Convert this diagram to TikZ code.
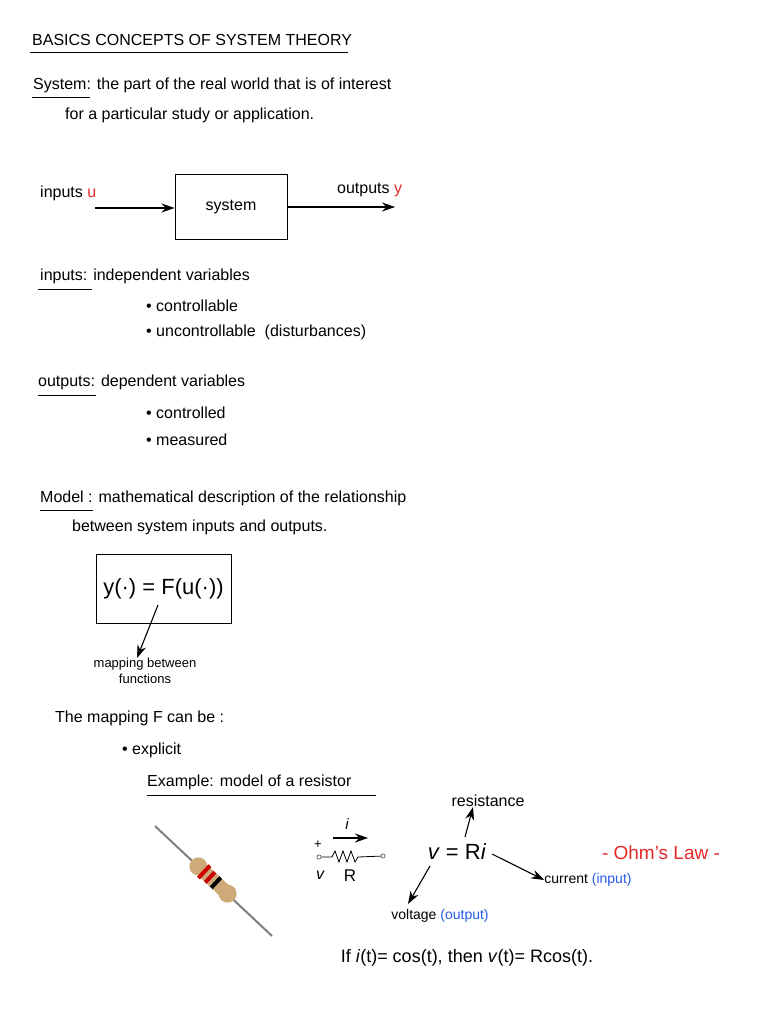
\documentclass[tikz,border=0pt]{standalone}
\usepackage{fontspec}
\setmainfont{Liberation Sans}
\usetikzlibrary{arrows.meta}
\definecolor{hred}{RGB}{230,40,40}
\definecolor{hblue}{RGB}{40,90,230}
\definecolor{tan}{RGB}{205,170,120}
\begin{document}
\begin{tikzpicture}[x=1pt,y=-1pt,
  txt/.style={anchor=west,inner sep=0pt,font=\fontsize{16}{19}\selectfont},
  sm/.style={anchor=center,inner sep=0pt,font=\fontsize{13}{16}\selectfont},
  arr/.style={-{Stealth[length=13pt,width=9pt]},line width=1.1pt},
  ul/.style={line width=0.8pt}]
\useasboundingbox[fill=white] (0,0) rectangle (768,1024);
\node[txt] (title) at (32,40) {BASICS CONCEPTS OF SYSTEM THEORY};
\draw[ul] (30,52) -- (348,52);
\node[txt] (sys) at (33,85) {System: the part of the real world that is of interest};
\draw[ul] (32,97) -- (90,97);
\node[txt] (sys2) at (65,115) {for a particular study or application.};
\node[draw,line width=1pt,minimum width=112pt,minimum height=64pt,font=\fontsize{16}{19}\selectfont] (box) at (231,207) {system};
\node[txt] (in) at (40,193) {inputs \textcolor{hred}{u}};
\coordinate (ins) at (95,208);
\draw[arr] (ins) -- (box.west |- ins);
\node[txt] (out) at (337,190) {outputs \textcolor{hred}{y}};
\coordinate (oute) at (395,207);
\draw[arr] (box.east |- oute) -- (oute);
\node[txt] (inp) at (40,276) {inputs: independent variables};
\draw[ul] (38,289) -- (92,289);
\node[txt] (b1) at (146,306) {\textbullet\ controllable};
\node[txt] (b2) at (146,332) {\textbullet\ uncontrollable\ \ (disturbances)};
\node[txt] (outp) at (38,382) {outputs: dependent variables};
\draw[ul] (38,395) -- (96,395);
\node[txt] (b3) at (146,413) {\textbullet\ controlled};
\node[txt] (b4) at (146,440) {\textbullet\ measured};
\node[txt] (mod) at (40,498) {Model : mathematical description of the relationship};
\draw[ul] (40,510) -- (93,510);
\node[txt] (mod2) at (72,527) {between system inputs and outputs.};
\node[draw,line width=1pt,minimum width=135pt,minimum height=69pt,font=\fontsize{22}{26}\selectfont] (fbox) at (163.5,588.5) {y(·) = F(u(·))};
\node[sm,align=center] (map) at (145,671) {mapping between\\functions};
\coordinate (ms) at (158,605);
\draw[arr] (ms) -- (map.north -| 137,0);
\node[txt] (can) at (55,718) {The mapping F can be :};
\node[txt] (expl) at (122,750) {\textbullet\ explicit};
\node[txt] (ex) at (147,782) {Example: model of a resistor};
\draw[ul] (147,795) -- (376,795);
\draw[line width=2pt,gray] (155,826) -- (272,936);
\begin{scope}[shift={(213,880)},rotate=-43]
\fill[tan] (-20,-7) rectangle (20,7);
\fill[tan] (-20,0) circle (9);
\fill[tan] (20,0) circle (9);
\fill[red!80!black] (-14,-8.5) rectangle (-10,8.5);
\fill[red!80!black] (-6,-7) rectangle (-2,7);
\fill[black] (2,-7) rectangle (6,7);
\end{scope}
\node[sm,font=\itshape\fontsize{15}{18}\selectfont] (ci) at (347,824) {i};
\coordinate (ia) at (333,838); \coordinate (ib) at (368,838);
\draw[arr] (ia) -- (ib);
\node[sm] (plus) at (318,845) {+};
\node[draw,circle,inner sep=1.5pt] (t1) at (319,857) {};
\node[draw,circle,inner sep=1.5pt] (t2) at (383,856) {};
\draw[line width=0.8pt] (t1) -- (332,857) -- (335,851) -- (339,862) -- (343,851) -- (347,862) -- (351,851) -- (355,862) -- (358,857) -- (t2);
\node[sm,font=\itshape\fontsize{16}{18}\selectfont] (cv) at (320,875) {v};
\node[sm,font=\fontsize{17}{20}\selectfont] (cR) at (350,876) {R};
\node[sm,font=\fontsize{22}{26}\selectfont] (law) at (457,852) {\textit{v} = R\textit{i}};
\node[sm,font=\fontsize{16}{19}\selectfont] (res) at (488,801) {resistance};
\draw[arr] (465,837) -- (res.south -| 473,0);
\node[sm,font=\fontsize{14}{17}\selectfont] (volt) at (440,916) {voltage \textcolor{hblue}{(output)}};
\draw[arr] (430,866) -- (408,904);
\node[sm,font=\fontsize{14}{17}\selectfont] (cur) at (588,880) {current \textcolor{hblue}{(input)}};
\draw[arr] (492,854) -- (cur.west);
\node[sm,font=\fontsize{19}{22}\selectfont,text=hred] (ohm) at (661,853) {- Ohm's Law -};
\node[sm,font=\fontsize{18}{22}\selectfont] (if) at (467,958) {If \textit{i}(t)= cos(t), then \textit{v}(t)= Rcos(t).};
\end{tikzpicture}
\end{document}
